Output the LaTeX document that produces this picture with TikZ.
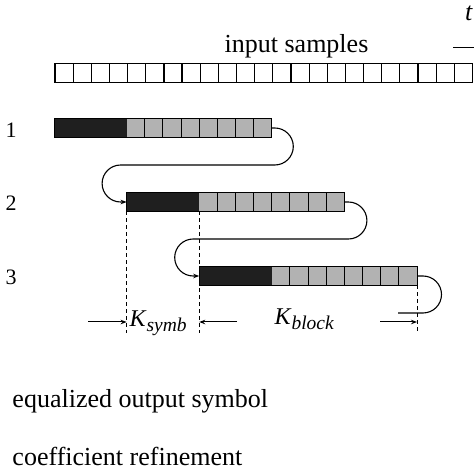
\documentclass[tikz,border=0pt]{standalone}
\usepackage{fontspec}
\setmainfont{Liberation Serif}
\usetikzlibrary{arrows.meta}
\newcommand{\Klab}[1]{\fontsize{24}{28}\selectfont\textit{K}\raisebox{-5pt}{\fontsize{19.5}{22}\selectfont\textit{#1}}}

\begin{document}
\begin{tikzpicture}[x=1pt,y=1pt,line width=1pt]
\useasboundingbox (0,0) rectangle (474,474);
\tikzset{
  samp/.style={draw, line width=1.2pt, minimum width=18.15pt, minimum height=18.5pt, inner sep=0pt, outer sep=0pt},
  blk/.style={minimum width=217.8pt, minimum height=18.5pt, inner sep=0pt, outer sep=0pt, fill=black!30},
  lab/.style={inner sep=0pt, font=\fontsize{26}{30}\selectfont},
  rowlab/.style={inner sep=0pt, font=\fontsize{22}{26}\selectfont},
  arr/.style={-{Stealth[length=6pt,width=4.5pt]}},
  dim/.style={dash pattern=on 4pt off 3pt}
}
% input samples
\foreach \i in {0,...,22}
  \node[samp] (s\i) at ({64.1+18.15*\i},401) {};
\node[lab, anchor=base] (inp) at (296.5,421) {input samples};
\node[lab, anchor=base] (t) at (469,453) {\textit{t}};
\draw (453,426) -- (474,426);
% blocks 1-3
\node[blk] (r1) at (162.9,346) {};
\node[blk] (r2) at (235.5,272) {};
\node[blk] (r3) at (308.1,198) {};
\foreach \k in {r1,r2,r3}{
  \fill[black!88] (\k.south west) rectangle ([xshift=72.6pt]\k.north west);
  \foreach \i in {5,...,11}
    \draw ([xshift=\i*18.15pt]\k.south west) -- ([xshift=\i*18.15pt]\k.north west);
  \draw (\k.south west) rectangle (\k.north east);
}
\node[rowlab] (n1) at (11,344) {1};
\node[rowlab] (n2) at (11,271) {2};
\node[rowlab] (n3) at (11,197) {3};
% refinement loops
\draw[arr, line width=1.1pt] (r1.east) -- ++(3,0) arc[start angle=90,end angle=-90,radius=18.5]
  -- ([xshift=-6pt,yshift=37pt]r2.west) arc[start angle=90,end angle=270,radius=18.5] -- (r2.west);
\draw[arr, line width=1.1pt] (r2.east) -- ++(4,0) arc[start angle=90,end angle=-90,radius=18.5]
  -- ([xshift=-6pt,yshift=37pt]r3.west) arc[start angle=90,end angle=270,radius=18.5] -- (r3.west);
\draw[line width=1.1pt] (r3.east) -- ++(6,0) arc[start angle=90,end angle=-90,radius=18.5] -- ++(-25,0);
% K_symb, K_block
\draw[dim] (r2.south west) -- (r2.south west |- 0,141);
\draw[dim] (r2.south -| r3.west) -- (r3.west |- 0,141);
\draw[dim] (r3.south east) -- (r3.east |- 0,141);
\draw[arr] (88,152) -- (r2.west |- 0,152);
\draw[arr] (237,152) -- (r3.west |- 0,152);
\draw[arr] (380,152) -- (r3.east |- 0,152);
\node[anchor=base west, inner sep=0pt] (ksymb) at (129,147) {\Klab{symb}};
\node[anchor=base west, inner sep=0pt] (kblock) at (274,149) {\Klab{block}};
% legend
\node[lab, anchor=base west] (eq) at (12,66) {equalized output symbol};
\node[lab, anchor=base west] (cr) at (12,9) {coefficient refinement};
\end{tikzpicture}
\end{document}
